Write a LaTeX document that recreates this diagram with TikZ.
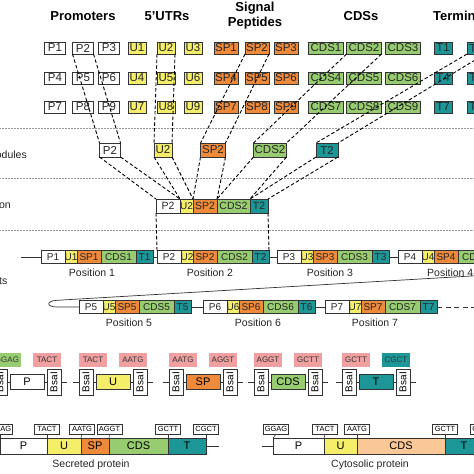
\documentclass[tikz,border=0pt]{standalone}
\usepackage{fontspec}
\usepackage{graphicx}
\setmainfont{Liberation Sans}
\definecolor{ucol}{RGB}{244,238,106}
\definecolor{spcol}{RGB}{238,138,58}
\definecolor{cdscol}{RGB}{152,204,112}
\definecolor{tcol}{RGB}{28,150,150}
\definecolor{pinkcol}{RGB}{240,160,160}
\definecolor{peachcol}{RGB}{250,200,150}
\tikzset{
  modbox/.style={draw=black!80, line width=0.8pt, inner sep=0pt, outer sep=0pt, minimum height=12pt, font=\fontsize{11.5}{11.5}\selectfont, text=black!85},
  modP/.style={modbox, fill=white},
  modU/.style={modbox, fill=ucol},
  modSP/.style={modbox, fill=spcol},
  modCDS/.style={modbox, fill=cdscol},
  modT/.style={modbox, fill=tcol},
  xseg/.style={draw=black!80, line width=0.7pt, inner sep=0pt, outer sep=0pt, minimum height=12.5pt, anchor=west, font=\fontsize{10}{10}\selectfont, text=black!85},
  xlink/.style={line width=0.9pt, dash pattern=on 3.5pt off 2.2pt},
  xsepline/.style={draw=black!40, line width=0.9pt, dash pattern=on 0.6pt off 0.9pt},
  xtitle/.style={font=\bfseries\fontsize{13}{15}\selectfont, align=center, inner sep=0pt},
  rowlab/.style={font=\fontsize{10.5}{11}\selectfont, anchor=east, inner sep=0pt, text=black!85},
  poslab/.style={font=\fontsize{10.5}{11}\selectfont, inner sep=0pt, text=black!85},
  wire/.style={line width=0.7pt, draw=black!80},
  bsa/.style={draw=black!80, fill=white, line width=0.7pt, minimum width=14pt, minimum height=26pt, inner sep=0pt, outer sep=0pt, font=\fontsize{10}{10}\selectfont},
  partb/.style={draw=black!80, line width=0.7pt, minimum width=34pt, minimum height=15pt, inner sep=0pt, outer sep=0pt, font=\fontsize{11}{11}\selectfont},
  tagb/.style={minimum width=28pt, minimum height=14pt, inner sep=0pt, font=\fontsize{8}{8}\selectfont, text=black!80},
  cons/.style={draw=black!80, line width=0.7pt, minimum height=16pt, inner sep=0pt, outer sep=0pt, anchor=west, font=\fontsize{11}{11}\selectfont},
  ctag/.style={draw=black!80, fill=white, line width=0.6pt, minimum width=25pt, minimum height=10pt, inner sep=0pt, outer sep=0pt, font=\fontsize{7.5}{7.5}\selectfont},
}
\newcommand\posunit[3]{%
  \node[xseg, fill=white, minimum width=24pt] (pP#1) at (#2,#3) {P#1};
  \node[xseg, fill=ucol, minimum width=12pt] (pU#1) at ({#2+24},#3) {\makebox[0pt]{U#1}};
  \node[xseg, fill=spcol, minimum width=24pt] (pS#1) at ({#2+36},#3) {SP#1};
  \node[xseg, fill=cdscol, minimum width=35pt] (pC#1) at ({#2+60},#3) {CDS#1};
  \node[xseg, fill=tcol, minimum width=17pt] (pT#1) at ({#2+95},#3) {T#1};
}
\newcommand\bsgroup[8]{%
  \coordinate (gs#1) at (#2,382);
  \coordinate (ge#1) at ({#2+80},382);
  \draw[wire] (gs#1) -- (ge#1);
  \node[bsa] (bl#1) at ({#2+13},382) {\rotatebox{90}{BsaI}};
  \node[partb, fill=#4] (pt#1) at ({#2+40},382) {#3};
  \node[bsa] (br#1) at ({#2+67},382) {\rotatebox{90}{BsaI}};
  \node[tagb, fill=#6] (tl#1) at ({#2+20},360) {#5};
  \node[tagb, fill=#8] (tr#1) at ({#2+60},360) {#7};
}
\begin{document}
\begin{tikzpicture}[x=1pt,y=-1pt]
\useasboundingbox (0,0) rectangle (474,474);
\clip (0,0) rectangle (474,474);
\fill[white] (0,0) rectangle (474,474);

% titles
\node[xtitle] (tP) at (83,16) {Promoters};
\node[xtitle] (tU) at (167,16) {5’UTRs};
\node[xtitle] (tS) at (255,16) {Signal\\Peptides};
\node[xtitle] (tC) at (361,16) {CDSs};
\node[xtitle, anchor=west] (tT) at (433,16) {Terminators};

% separators
\draw[xsepline] (0,128) -- (474,128);
\draw[xsepline] (0,178) -- (474,178);
\draw[xsepline] (0,230) -- (474,230);

% row labels (clipped at the left)
\node[rowlab] (lMod) at (27,155) {Selected modules};
\node[rowlab] (lTU) at (11,205) {TU construction};
\node[rowlab] (lMG) at (7.5,282) {Multigene constructs};

% module library
\foreach \r/\y in {0/48,1/78,2/107} {
  \foreach \c/\x in {1/55,2/83,3/109} {
    \pgfmathtruncatemacro\n{3*\r+\c}
    \node[modP, minimum width=21pt] (gP\n) at (\x,\y) {P\n};
  }
  \foreach \c/\x in {1/137,2/166,3/193} {
    \pgfmathtruncatemacro\n{3*\r+\c}
    \node[modU, minimum width=18pt] (gU\n) at (\x,\y) {U\n};
  }
  \foreach \c/\x in {1/226,2/257,3/286} {
    \pgfmathtruncatemacro\n{3*\r+\c}
    \node[modSP, minimum width=24pt] (gS\n) at (\x,\y) {SP\n};
  }
  \foreach \c/\x in {1/326,2/364,3/403} {
    \pgfmathtruncatemacro\n{3*\r+\c}
    \node[modCDS, minimum width=35pt] (gC\n) at (\x,\y) {CDS\n};
  }
  \foreach \c/\x in {1/443,2/476,3/509} {
    \pgfmathtruncatemacro\n{3*\r+\c}
    \node[modT, minimum width=18pt] (gT\n) at (\x,\y) {T\n};
  }
}

% selected modules
\node[modP, minimum width=21pt, minimum height=14pt] (sP) at (110,150) {P2};
\node[modU, minimum width=18pt, minimum height=14pt] (sU) at (163,150) {U2};
\node[modSP, minimum width=25pt, minimum height=14pt] (sS) at (213,150) {SP2};
\node[modCDS, minimum width=33pt, minimum height=14pt] (sC) at (270,150) {CDS2};
\node[modT, minimum width=22pt, minimum height=14pt] (sT) at (327,150) {T2};

% assembled TU
\node[xseg, fill=white, minimum width=24pt, minimum height=14pt, font=\fontsize{10.5}{10.5}\selectfont] (aP) at (156,206) {P2};
\node[xseg, fill=ucol, minimum width=13pt, minimum height=14pt] (aU) at (180,206) {\makebox[0pt]{U2}};
\node[xseg, fill=spcol, minimum width=24pt, minimum height=14pt, font=\fontsize{10.5}{10.5}\selectfont] (aS) at (193,206) {SP2};
\node[xseg, fill=cdscol, minimum width=33pt, minimum height=14pt, font=\fontsize{10.5}{10.5}\selectfont] (aC) at (217,206) {CDS2};
\node[xseg, fill=tcol, minimum width=18pt, minimum height=14pt, font=\fontsize{10.5}{10.5}\selectfont] (aT) at (250,206) {T2};

% multigene rows
\posunit{1}{41}{257}
\posunit{2}{157}{257}
\posunit{3}{277}{257}
\posunit{4}{398}{257}
\posunit{5}{79}{307}
\posunit{6}{203}{307}
\posunit{7}{325}{307}

\coordinate (r1L) at (21,257);
\draw[wire] (r1L) -- (pP1.west);
\draw[wire] (pT1.east) -- (pP2.west);
\draw[wire] (pT2.east) -- (pP3.west);
\draw[wire] (pT3.east) -- (pP4.west);
\draw[wire] (pT5.east) -- (pP6.west);
\draw[wire] (pT6.east) -- (pP7.west);
\coordinate (r2R) at (476,307);
\draw[wire, dash pattern=on 5pt off 3.5pt] (pT7.east) -- (r2R);
\coordinate (hpR) at (478,275.6);
\draw[wire] (hpR) -- (57,300.3) .. controls (46,300.8) and (46,307) .. (57,307) -- (pP5.west);

\node[poslab] (pl1) at (92,273) {Position 1};
\node[poslab] (pl2) at (210,273) {Position 2};
\node[poslab] (pl3) at (330,273) {Position 3};
\node[poslab, anchor=west] (pl4) at (427,273) {Position 4};
\node[poslab] (pl5) at (129,323) {Position 5};
\node[poslab] (pl6) at (258,323) {Position 6};
\node[poslab] (pl7) at (375,323) {Position 7};

% dashed links
\foreach \g/\s in {gP2/sP,gU2/sU,gS2/sS,gC2/sC,gT2/sT} {
  \draw[xlink] (\g.south west) -- (\s.north west);
  \draw[xlink] (\g.south east) -- (\s.north east);
}
\foreach \s/\a in {sP/aP,sU/aU,sS/aS,sC/aC,sT/aT} {
  \draw[xlink] (\s.south west) -- (\a.north west);
  \draw[xlink] (\s.south east) -- (\a.north east);
}
\draw[xlink] (aP.south west) -- (pP2.north west);
\draw[xlink] (aT.south east) -- (pT2.north east);

% BsaI parts
\bsgroup{1}{-13}{P}{white}{GGAG}{cdscol}{TACT}{pinkcol}
\bsgroup{2}{73}{U}{ucol}{TACT}{pinkcol}{AATG}{pinkcol}
\bsgroup{3}{163}{SP}{spcol}{AATG}{pinkcol}{AGGT}{pinkcol}
\bsgroup{4}{248}{CDS}{cdscol}{AGGT}{pinkcol}{GCTT}{pinkcol}
\bsgroup{5}{336}{T}{tcol}{GCTT}{pinkcol}{CGCT}{tcol}

% secreted protein construct
\coordinate (scL) at (-15,446);
\coordinate (scR) at (219,446);
\draw[wire] (scL) -- (scR);
\node[cons, fill=white, minimum width=47pt] (scP) at (0,446) {P};
\node[cons, fill=ucol, minimum width=34pt] (scU) at (47,446) {U};
\node[cons, fill=spcol, minimum width=28pt] (scS) at (81,446) {SP};
\node[cons, fill=cdscol, minimum width=59pt] (scC) at (109,446) {CDS};
\node[cons, fill=tcol, minimum width=38pt] (scT) at (168,446) {T};
\node[ctag] (st1) at (0,429) {GGAG};
\node[ctag] (st2) at (47,429) {TACT};
\node[ctag] (st3) at (82,429) {AATG};
\node[ctag] (st4) at (109.5,429) {AGGT};
\node[ctag] (st5) at (168,429) {GCTT};
\node[ctag] (st6) at (206,429) {CGCT};
\draw[wire, line width=0.6pt] (st1.south) -- (scP.north west);
\draw[wire, line width=0.6pt] (st2.south) -- (scU.north west);
\draw[wire, line width=0.6pt] (st3.south) -- (scS.north west);
\draw[wire, line width=0.6pt] (st4.south) -- (scC.north west);
\draw[wire, line width=0.6pt] (st5.south) -- (scT.north west);
\draw[wire, line width=0.6pt] (st6.south) -- (scT.north east);
\node[poslab] (scLab) at (91,465) {Secreted protein};

% cytosolic protein construct
\coordinate (cyL) at (262,446);
\coordinate (cyR) at (490,446);
\draw[wire] (cyL) -- (cyR);
\node[cons, fill=white, minimum width=51pt] (cyP) at (273,446) {P};
\node[cons, fill=ucol, minimum width=33pt] (cyU) at (324,446) {U};
\node[cons, fill=peachcol, minimum width=88pt] (cyC) at (357,446) {CDS};
\node[cons, fill=tcol, minimum width=38pt] (cyT) at (445,446) {T};
\node[ctag] (ct1) at (276,429) {GGAG};
\node[ctag] (ct2) at (325,429) {TACT};
\node[ctag] (ct3) at (357,429) {AATG};
\node[ctag] (ct4) at (445,429) {GCTT};
\node[ctag] (ct5) at (483,429) {CGCT};
\draw[wire, line width=0.6pt] (ct1.south) -- (cyP.north west);
\draw[wire, line width=0.6pt] (ct2.south) -- (cyU.north west);
\draw[wire, line width=0.6pt] (ct3.south) -- (cyC.north west);
\draw[wire, line width=0.6pt] (ct4.south) -- (cyT.north west);
\draw[wire, line width=0.6pt] (ct5.south) -- (cyT.north east);
\node[poslab] (cyLab) at (370,465) {Cytosolic protein};
\end{tikzpicture}
\end{document}
